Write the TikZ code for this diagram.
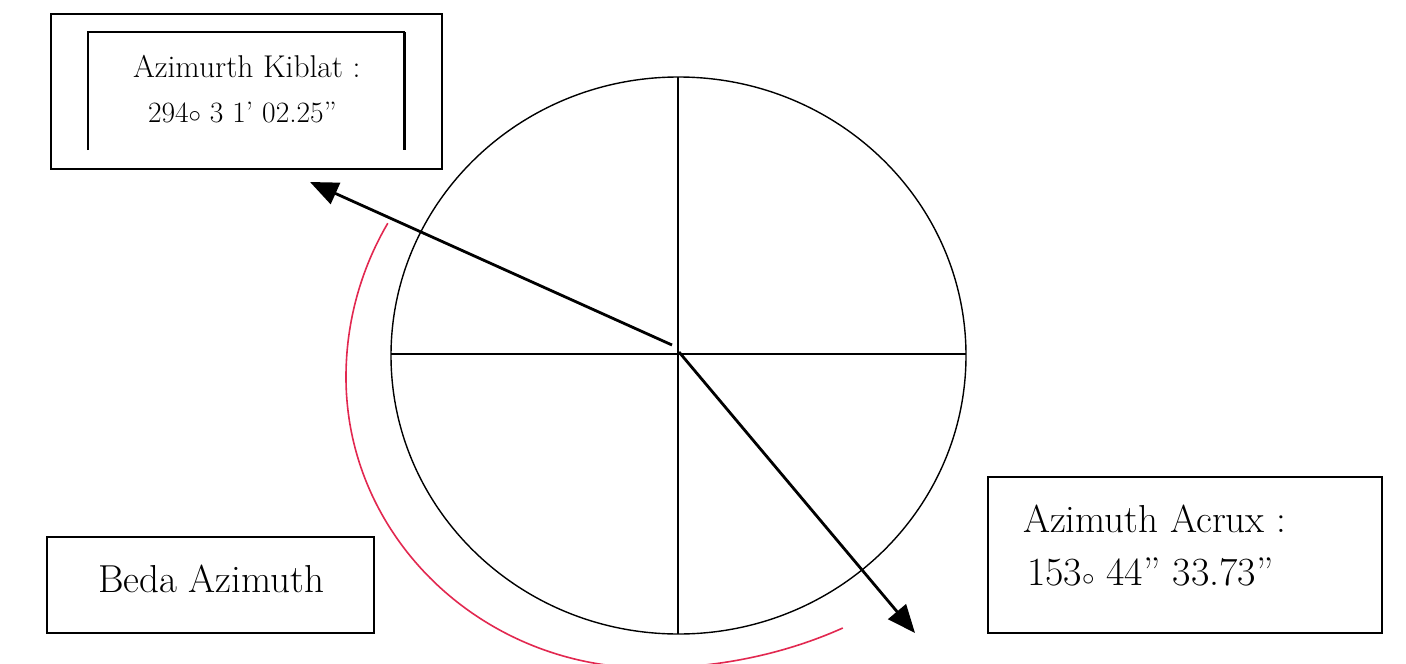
\documentclass[tikz,border=0pt]{standalone}
\usetikzlibrary{arrows.meta}
\definecolor{arcred}{RGB}{226,40,80}
\begin{document}
\begin{tikzpicture}[x=1pt,y=-1pt,
  frame/.style={draw, line width=1.8pt, inner sep=0pt, outer sep=0pt, anchor=north west},
  txt/.style={anchor=base west, inner sep=0pt, outer sep=0pt},
  gridln/.style={line width=1.4pt},
  ptr/.style={line width=2.8pt, -{Triangle[length=28pt,width=23pt]}},
  redarc/.style={draw=arcred, line width=1.6pt}]
\useasboundingbox (0,0) rectangle (1406,664);
\fill[white] (0,0) rectangle (1406,664);

% boxes
\node[frame, minimum width=391pt, minimum height=155pt] (kbox) at (51,14) {};
\node[frame, minimum width=327pt, minimum height=96pt] (bbox) at (47,537) {};
\node[frame, minimum width=394pt, minimum height=156pt] (abox) at (988,477) {};

% inner bracket of Kiblat box
\draw[line width=1.8pt] (88,150) -- (88,32) -- (404,32) -- (404,150);
\draw[line width=3pt] (404,32) -- (404,150);

% circle and cross
\coordinate (O) at (678.5,355.5);
\coordinate (N) at (678,77);
\coordinate (S) at (678,634);
\coordinate (W) at (391,354);
\coordinate (E) at (966,354);
\draw[gridln] (O) ellipse [x radius=287.5pt, y radius=278.5pt];
\draw[gridln] (N) -- (S);
\draw[gridln] (W) -- (E);

% red arc (Beda Azimuth)
\coordinate (R0) at (387.8,223.2);
\draw[redarc] (R0)
  arc[start angle=149.6, end angle=180, x radius=304pt, y radius=304pt]
  arc[start angle=180, end angle=270, x radius=304pt, y radius=291pt]
  arc[start angle=270, end angle=300.4, x radius=381pt, y radius=291pt];

% arrows
\coordinate (a1s) at (672,345);
\coordinate (a1e) at (310,182);
\coordinate (a2s) at (679,352);
\coordinate (a2e) at (915,633);
\draw[ptr] (a1s) -- (a1e);
\draw[ptr] (a2s) -- (a2e);

% texts
\node[txt, font=\fontsize{31.5}{36}\selectfont] (k1) at (133,77) {Azimurth Kiblat :};
\node[txt, font=\fontsize{29.5}{36}\selectfont] (k2) at (148,122) {294$\circ$ 3 1' 02.25”};
\node[txt, font=\fontsize{39}{46}\selectfont] (b1) at (98,592) {Beda Azimuth};
\node[txt, font=\fontsize{39}{46}\selectfont] (r1) at (1023,532) {Azimuth Acrux :};
\node[txt, font=\fontsize{40}{46}\selectfont] (r2) at (1027,585) {153$\circ$ 44" 33.73”};
\end{tikzpicture}
\end{document}
